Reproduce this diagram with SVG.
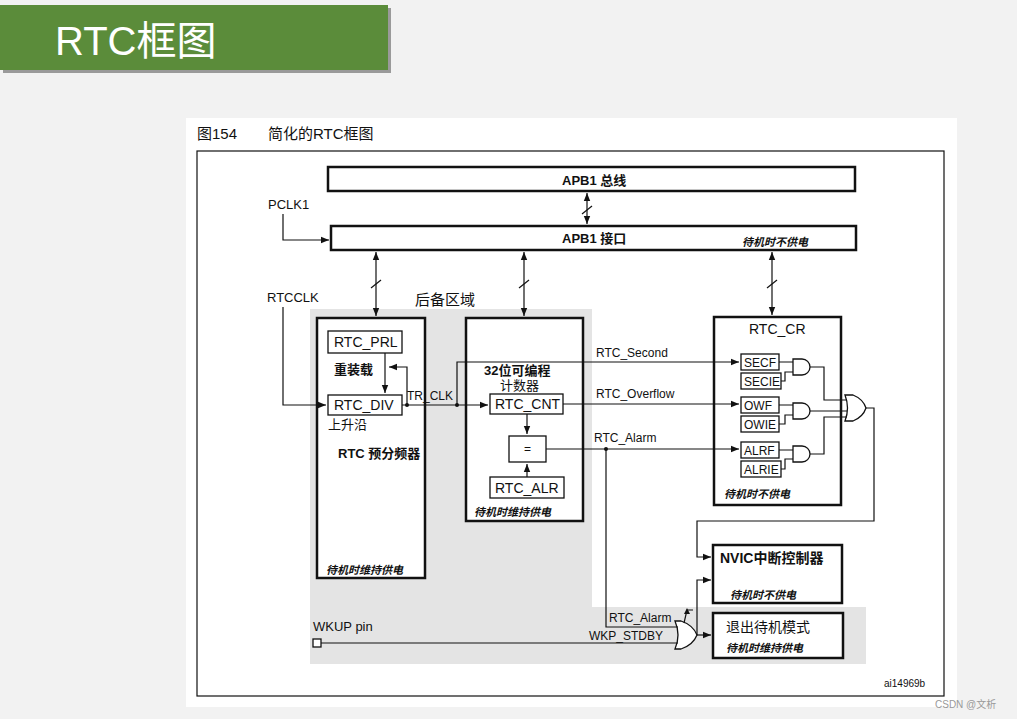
<svg xmlns="http://www.w3.org/2000/svg" width="1017" height="719" viewBox="0 0 1017 719">
<style>
text{font-family:"Liberation Sans","Noto Sans CJK SC",sans-serif;fill:#111}
.b{fill:#fff;stroke:#111;stroke-width:1.3}
.t{fill:#fff;stroke:#111;stroke-width:2.5}
.tg{fill:none;stroke:#111;stroke-width:2.5}
.l{fill:none;stroke:#111;stroke-width:1.2}
.s12{font-size:12px}.s13{font-size:13px}
.it{font-size:11px;font-style:italic;font-weight:bold}
</style>
<defs>
<marker id="a" viewBox="0 0 10 10" refX="10" refY="5" markerWidth="7" markerHeight="7" orient="auto-start-reverse"><path d="M0,1L10,5L0,9z" fill="#111"/></marker>
</defs>
<rect width="1017" height="719" fill="#f2f2f2"/>
<rect x="3" y="8" width="388" height="65" fill="#9a9a9a"/>
<rect x="0" y="5" width="388" height="65" fill="#5b8c3a"/>
<text x="55" y="55" style="font-size:40px;fill:#fff">RTC框图</text>
<rect x="186" y="118" width="771" height="589" fill="#fff"/>
<text x="197" y="139" style="font-size:15px">图154</text>
<text x="268" y="139" style="font-size:15px">简化的RTC框图</text>
<rect x="197" y="151" width="747" height="545" fill="none" stroke="#111" stroke-width="1.2"/>
<path d="M310,309H592V607H866V664H310Z" fill="#e4e4e4"/>
<text x="415" y="305" style="font-size:15px">后备区域</text>
<g id="apb1bus"><rect class="tg" x="328" y="167" width="527" height="24" fill="#fff"/><text x="562" y="185" class="s13" font-weight="bold">APB1 总线</text></g>
<g id="apb1if"><rect class="tg" x="331" y="226" width="525" height="24" fill="#fff"/><text x="562" y="243" class="s13" font-weight="bold">APB1 接口</text><text x="742" y="246" class="it">待机时不供电</text></g>
<g id="prescaler"><rect class="t" x="317" y="318" width="108" height="260"/>
<rect class="b" x="328" y="331" width="74" height="22"/><text x="334" y="347" style="font-size:14px">RTC_PRL</text>
<rect class="b" x="328" y="395" width="74" height="20"/><text x="334" y="410" style="font-size:14px">RTC_DIV</text>
<text x="334" y="374" class="s13" font-weight="bold">重装载</text>
<text x="328" y="429" class="s13">上升沿</text>
<text x="338" y="458" class="s13" font-weight="bold">RTC 预分频器</text>
<text x="326" y="574" class="it">待机时维持供电</text></g>
<g id="counter"><rect class="t" x="466" y="318" width="117" height="203"/>
<text x="484" y="375" class="s13" font-weight="bold">32位可编程</text><text x="500" y="390" class="s13">计数器</text>
<rect class="b" x="490" y="394" width="73" height="20"/><text x="495" y="409" style="font-size:14px">RTC_CNT</text>
<rect class="b" x="509" y="436" width="37" height="26"/><text x="524" y="453" class="s12">=</text>
<rect class="b" x="490" y="477" width="74" height="21"/><text x="495" y="493" style="font-size:14px">RTC_ALR</text>
<text x="474" y="516" class="it">待机时维持供电</text></g>
<g id="rtccr"><rect class="t" x="714" y="317" width="127" height="188"/>
<text x="749" y="334" style="font-size:14px">RTC_CR</text>
<rect class="b" x="741" y="354" width="38" height="16"/><text x="744" y="367" class="s12">SECF</text>
<rect class="b" x="741" y="373" width="40" height="16"/><text x="744" y="386" class="s12">SECIE</text>
<rect class="b" x="741" y="397" width="38" height="16"/><text x="744" y="410" class="s12">OWF</text>
<rect class="b" x="741" y="416" width="38" height="16"/><text x="744" y="429" class="s12">OWIE</text>
<rect class="b" x="741" y="442" width="38" height="16"/><text x="744" y="455" class="s12">ALRF</text>
<rect class="b" x="741" y="461" width="40" height="16"/><text x="744" y="474" class="s12">ALRIE</text>
<path class="b" d="M793,359h9a8,8 0 0 1 0,16h-9z"/>
<path class="b" d="M793,403h9a8,8 0 0 1 0,16h-9z"/>
<path class="b" d="M793,446h9a8,8 0 0 1 0,16h-9z"/>
<text x="724" y="498" class="it">待机时不供电</text></g>
<g id="orgate"><path class="b" d="M845,395h8q10,4 13,13q-3,9 -13,13h-8q5,-13 0,-26z"/></g>
<g id="nvic"><rect class="t" x="713" y="545" width="129" height="58"/><text x="720" y="563" style="font-size:14px" font-weight="bold">NVIC中断控制器</text><text x="730" y="599" class="it">待机时不供电</text></g>
<g id="exit"><rect class="t" x="713" y="613" width="130" height="45"/><text x="726" y="632" style="font-size:14px">退出待机模式</text><text x="726" y="652" class="it">待机时维持供电</text></g>
<g id="wkgate"><path class="b" d="M675,621h6q12,4 16,14q-4,10 -16,14h-6q6,-14 0,-28z"/></g>
<rect class="b" x="313" y="639" width="8" height="8"/>
<g id="connectors">
<path class="l" d="M587,193V224" marker-start="url(#a)" marker-end="url(#a)"/><path class="l" d="M582,214l10,-8"/>
<path class="l" d="M376,252V316" marker-start="url(#a)" marker-end="url(#a)"/><path class="l" d="M371,288l10,-8"/>
<path class="l" d="M524,252V316" marker-start="url(#a)" marker-end="url(#a)"/><path class="l" d="M519,288l10,-8"/>
<path class="l" d="M772,252V315" marker-start="url(#a)" marker-end="url(#a)"/><path class="l" d="M767,288l10,-8"/>
<text x="268" y="209" class="s13">PCLK1</text><path class="l" d="M283,214V240H329" marker-end="url(#a)"/>
<text x="267" y="302" class="s13">RTCCLK</text><path class="l" d="M283,307V405H326" marker-end="url(#a)"/>
<path class="l" d="M385,353V393" marker-end="url(#a)"/>
<path class="l" d="M407,405V367H389" marker-end="url(#a)"/>
<text x="407" y="400" class="s12">TR_CLK</text>
<path class="l" d="M402,405H488" marker-end="url(#a)"/>
<circle cx="407" cy="405" r="2" fill="#111"/><circle cx="457" cy="405" r="2" fill="#111"/>
<path class="l" d="M457,405V362H739" marker-end="url(#a)"/><text x="596" y="357" class="s12">RTC_Second</text>
<path class="l" d="M563,404H739" marker-end="url(#a)"/><text x="596" y="398" class="s12">RTC_Overflow</text>
<path class="l" d="M527,414V434" marker-end="url(#a)"/>
<path class="l" d="M527,477V464" marker-end="url(#a)"/>
<path class="l" d="M546,449H739" marker-end="url(#a)"/><text x="594" y="442" class="s12">RTC_Alarm</text>
<circle cx="606" cy="449" r="2" fill="#111"/>
<path class="l" d="M779,362H793M781,381H785V372H793M779,405H793M779,424H785V415H793M779,450H793M781,469H785V459H793"/>
<path class="l" d="M810,367H824V400H847M810,411H847M810,454H824V417H847"/>
<path class="l" d="M866,408H874V521H697V557H711" marker-end="url(#a)"/>
<path class="l" d="M606,449V627H678"/><text x="609" y="622" class="s12">RTC_Alarm</text>
<path class="l" d="M684,623L687,610H693"/><path d="M684,614l3,-6 3,6z" fill="#111"/>
<text x="313" y="631" class="s13">WKUP pin</text><text x="589" y="640" class="s12">WKP_STDBY</text>
<path class="l" d="M321,643H678"/>
<path class="l" d="M697,635H711" marker-end="url(#a)"/>
<path class="l" d="M697,635V580H711" marker-end="url(#a)"/>
</g>
<text x="884" y="687" style="font-size:10px">ai14969b</text>
<text x="935" y="708" style="font-size:10px;fill:#999">CSDN @文析</text>
</svg>
